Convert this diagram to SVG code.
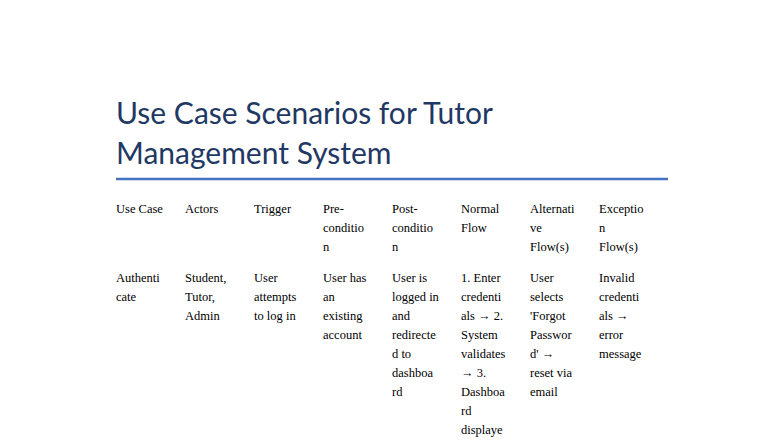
<svg xmlns="http://www.w3.org/2000/svg" width="784" height="441" viewBox="0 0 784 441">
<style>
.t{font-family:Lato,"Liberation Sans",sans-serif;font-size:30px;fill:#1F3864}
.c{font-family:"Liberation Serif","DejaVu Serif",serif;font-size:12.5px;fill:#000}
</style>
<rect width="784" height="441" fill="#fff"/>
<g id="title">
<text class="t" x="116" y="124">Use Case Scenarios for Tutor</text>
<text class="t" x="116" y="164">Management System</text>
<line x1="116" y1="179" x2="668" y2="179" stroke="#4472C4" stroke-width="2.5"/>
</g>
<g id="header" class="c">
<text x="116" y="213">Use Case</text>
<text x="185" y="213">Actors</text>
<text x="254" y="213">Trigger</text>
<text x="323" y="213">Pre-</text><text x="323" y="232">conditio</text><text x="323" y="251">n</text>
<text x="392" y="213">Post-</text><text x="392" y="232">conditio</text><text x="392" y="251">n</text>
<text x="461" y="213">Normal</text><text x="461" y="232">Flow</text>
<text x="530" y="213">Alternati</text><text x="530" y="232">ve</text><text x="530" y="251">Flow(s)</text>
<text x="599" y="213">Exceptio</text><text x="599" y="232">n</text><text x="599" y="251">Flow(s)</text>
</g>
<g id="row1" class="c">
<text x="116" y="282">Authenti</text><text x="116" y="301">cate</text>
<text x="185" y="282">Student,</text><text x="185" y="301">Tutor,</text><text x="185" y="320">Admin</text>
<text x="254" y="282">User</text><text x="254" y="301">attempts</text><text x="254" y="320">to log in</text>
<text x="323" y="282">User has</text><text x="323" y="301">an</text><text x="323" y="320">existing</text><text x="323" y="339">account</text>
<text x="392" y="282">User is</text><text x="392" y="301">logged in</text><text x="392" y="320">and</text><text x="392" y="339">redirecte</text><text x="392" y="358">d to</text><text x="392" y="377">dashboa</text><text x="392" y="396">rd</text>
<text x="461" y="282">1. Enter</text><text x="461" y="301">credenti</text><text x="461" y="320">als → 2.</text><text x="461" y="339">System</text><text x="461" y="358">validates</text><text x="461" y="377">→ 3.</text><text x="461" y="396">Dashboa</text><text x="461" y="415">rd</text><text x="461" y="434">displaye</text>
<text x="530" y="282">User</text><text x="530" y="301">selects</text><text x="530" y="320">'Forgot</text><text x="530" y="339">Passwor</text><text x="530" y="358">d' →</text><text x="530" y="377">reset via</text><text x="530" y="396">email</text>
<text x="599" y="282">Invalid</text><text x="599" y="301">credenti</text><text x="599" y="320">als →</text><text x="599" y="339">error</text><text x="599" y="358">message</text>
</g>
</svg>
